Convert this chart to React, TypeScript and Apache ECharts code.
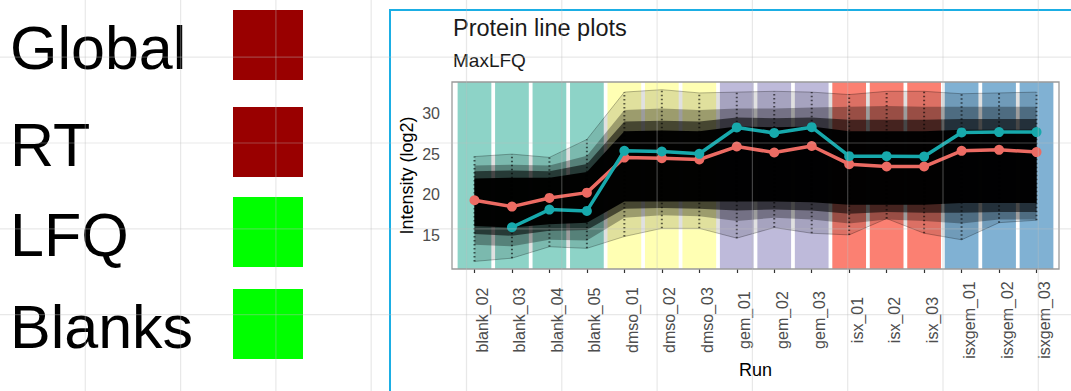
import React, { useEffect, useRef } from 'react';
import * as echarts from 'echarts';

// ---- data ----
const runs = [
  'blank_02', 'blank_03', 'blank_04', 'blank_05',
  'dmso_01', 'dmso_02', 'dmso_03',
  'gem_01', 'gem_02', 'gem_03',
  'isx_01', 'isx_02', 'isx_03',
  'isxgem_01', 'isxgem_02', 'isxgem_03',
];
const runGroup = [0, 0, 0, 0, 1, 1, 1, 2, 2, 2, 3, 3, 3, 4, 4, 4];
const groupColors = ['#8DD3C7', '#FFFFB3', '#BEBADA', '#FB8072', '#80B1D3'];

// highlighted protein traces
const traceRed = [19.35, 18.57, 19.63, 20.28, 24.58, 24.5, 24.34, 25.93, 25.2, 26.0, 23.77, 23.48, 23.48, 25.4, 25.53, 25.25];
const traceTeal = [null, 16.04, 18.2, 18.04, 25.4, 25.32, 25.04, 28.27, 27.6, 28.3, 24.75, 24.75, 24.7, 27.66, 27.7, 27.7];

// envelopes of the cloud of all protein lines (estimated)
const maxVal = [24.7, 25.0, 24.6, 26.8, 32.6, 32.9, 32.5, 32.6, 32.7, 32.6, 32.3, 32.7, 32.7, 32.4, 32.5, 32.6];
const hiMid = [23.6, 23.7, 23.6, 24.8, 30.4, 30.6, 30.4, 30.6, 30.6, 30.7, 30.8, 30.9, 30.8, 30.8, 30.8, 30.8];
const hiDense = [22.9, 23.0, 22.9, 23.8, 29.0, 29.1, 29.0, 29.5, 29.4, 29.5, 29.2, 29.2, 29.2, 29.3, 29.3, 29.3];
const hiCore = [22.0, 22.1, 22.1, 22.8, 27.8, 27.9, 27.8, 28.4, 28.3, 28.4, 27.8, 27.8, 27.8, 28.0, 28.0, 28.0];
const loCore = [16.2, 16.0, 16.4, 16.6, 19.2, 19.2, 19.2, 19.2, 19.2, 19.1, 18.8, 18.8, 18.8, 19.0, 19.0, 19.0];
const loDense = [15.2, 15.0, 15.6, 15.7, 18.3, 18.4, 18.3, 18.1, 18.2, 18.1, 17.7, 17.9, 17.8, 17.8, 17.9, 17.9];
const loMid = [13.9, 13.7, 14.5, 14.4, 17.2, 17.5, 17.4, 16.8, 17.2, 17.0, 16.5, 17.0, 16.8, 16.5, 17.0, 17.0];
const minVal = [11.85, 12.25, 13.65, 13.45, 14.9, 15.9, 15.9, 14.7, 16.0, 15.3, 15.1, 17.1, 15.3, 14.5, 16.6, 16.9];

const yTicks = [15, 20, 25, 30];
const legendLabels = ['Global', 'RT', 'LFQ', 'Blanks'];
const legendColors = ['#990000', '#990000', '#00FF00', '#00FF00'];

const title = 'Protein line plots';
const subtitle = 'MaxLFQ';
const xTitle = 'Run';
const yTitle = 'Intensity (log2)';

// ---- layout / style ----
const FONT = "'Liberation Sans', Arial, Helvetica, sans-serif";
const Y_MIN = 10.92;
const Y_MAX = 33.84;
const X_MIN = -0.6;
const X_MAX = runs.length - 1 + 0.6;
const GRID = { left: 452, top: 82, width: 607, height: 187 };
const BAND_W = 0.9;

export default function App() {
  const ref = useRef<HTMLDivElement>(null);

  useEffect(() => {
    document.body.style.margin = '0';
    const chart = echarts.init(ref.current!, undefined, { renderer: 'svg' });

    const idx = runs.map((_, i) => i);

    const layers = [
      { lo: minVal, hi: maxVal, alpha: 0.12, edge: 0.35 },
      { lo: loMid, hi: hiMid, alpha: 0.3, edge: 0 },
      { lo: loDense, hi: hiDense, alpha: 0.55, edge: 0 },
      { lo: loCore, hi: hiCore, alpha: 0.97, edge: 0 },
    ];

    // each envelope is one polygon built from its two arrays through the axis scales
    const envelopeSeries: any[] = layers.map((L) => ({
      type: 'custom',
      silent: true,
      z: 3,
      data: idx.map((i) => [i, L.lo[i], L.hi[i]]),
      encode: { x: 0, y: [1, 2] },
      renderItem: (params: any, api: any) => {
        if (params.dataIndex !== 0) return null;
        const upper = idx.map((i) => api.coord([i, L.hi[i]]));
        const lower = idx.map((i) => api.coord([i, L.lo[i]])).reverse();
        const children: any[] = [
          {
            type: 'polygon',
            shape: { points: upper.concat(lower) },
            style: { fill: 'rgba(0,0,0,' + L.alpha + ')', stroke: 'none' },
          },
        ];
        if (L.edge > 0) {
          children.push({
            type: 'polyline',
            shape: { points: upper },
            style: { fill: 'none', stroke: 'rgba(0,0,0,' + L.edge + ')', lineWidth: 0.8 },
          });
          children.push({
            type: 'polyline',
            shape: { points: lower },
            style: { fill: 'none', stroke: 'rgba(0,0,0,' + L.edge + ')', lineWidth: 0.8 },
          });
        }
        return { type: 'group', children };
      },
    }));

    // page background grid (decorative)
    const pageGrid: any[] = [];
    for (let k = 0; k < 11; k++) {
      const x = 85.3 + k * 95.3;
      pageGrid.push({
        type: 'line', z: 200, silent: true,
        shape: { x1: x, y1: 0, x2: x, y2: 391 },
        style: { stroke: 'rgba(190,190,190,0.35)', lineWidth: 1.2 },
      });
    }
    for (let k = 0; k < 4; k++) {
      const y = 57.2 + k * 85.8;
      pageGrid.push({
        type: 'line', z: 200, silent: true,
        shape: { x1: 0, y1: y, x2: 1071, y2: y },
        style: { stroke: 'rgba(190,190,190,0.35)', lineWidth: 1.2 },
      });
    }

    const legendCenters = [45, 142, 232, 324];
    const legendGraphics: any[] = [];
    legendLabels.forEach((lab, k) => {
      legendGraphics.push({
        type: 'text', z: 5,
        x: 10, y: legendCenters[k] + 3,
        style: { text: lab, font: `61px ${FONT}`, fill: '#000', align: 'left', verticalAlign: 'middle' },
      });
      legendGraphics.push({
        type: 'rect', z: 5,
        shape: { x: 233, y: legendCenters[k] - 35, width: 70, height: 70 },
        style: { fill: legendColors[k] },
      });
    });

    const option: any = {
      animation: false,
      backgroundColor: '#ffffff',
      grid: { ...GRID, show: false, containLabel: false },
      xAxis: {
        type: 'value',
        min: X_MIN,
        max: X_MAX,
        axisLine: { show: false },
        splitLine: { show: false },
        axisTick: { show: true, customValues: idx, length: 4, lineStyle: { color: '#333', width: 1.2 } },
        axisLabel: {
          customValues: idx,
          formatter: (v: number) => runs[Math.round(v)] ?? '',
          rotate: 90,
          align: 'center',
          verticalAlign: 'top',
          margin: 51,
          color: '#4D4D4D',
          fontSize: 16,
          fontFamily: FONT,
        },
      },
      yAxis: {
        type: 'value',
        min: Y_MIN,
        max: Y_MAX,
        axisLine: { show: false },
        splitLine: { show: false },
        axisTick: { show: true, customValues: yTicks, length: 4, lineStyle: { color: '#333', width: 1.2 } },
        axisLabel: {
          customValues: yTicks,
          color: '#4D4D4D',
          fontSize: 16,
          fontFamily: FONT,
          margin: 12,
        },
      },
      series: [
        {
          type: 'custom',
          silent: true,
          z: 1,
          data: idx.map((i) => [i, Y_MAX, runGroup[i]]),
          encode: { x: 0, y: 1 },
          renderItem: (params: any, api: any) => {
            const i = api.value(0);
            const top = api.coord([i, Y_MAX]);
            const bot = api.coord([i, Y_MIN]);
            const w = api.size([BAND_W, 0])[0];
            return {
              type: 'rect',
              shape: { x: top[0] - w / 2, y: top[1], width: w, height: bot[1] - top[1] },
              style: { fill: groupColors[api.value(2)] },
            };
          },
        },
        ...envelopeSeries,
        {
          type: 'custom',
          silent: true,
          z: 4,
          data: idx.map((i) => [i, minVal[i], maxVal[i]]),
          encode: { x: 0, y: [1, 2] },
          renderItem: (params: any, api: any) => {
            const i = api.value(0);
            const a = api.coord([i, api.value(1)]);
            const b = api.coord([i, api.value(2)]);
            return {
              type: 'line',
              shape: { x1: a[0], y1: a[1], x2: b[0], y2: b[1] },
              style: { stroke: '#000', lineWidth: 2, opacity: 0.6, lineDash: [1.5, 2.5] },
            };
          },
        },
        {
          type: 'line',
          name: 'red',
          data: idx.map((i) => [i, traceRed[i]]),
          symbol: 'circle',
          symbolSize: 10,
          itemStyle: { color: '#EC6B63' },
          lineStyle: { color: '#EC6B63', width: 3.5 },
          z: 10,
        },
        {
          type: 'line',
          name: 'teal',
          data: idx.map((i) => [i, traceTeal[i]]),
          symbol: 'circle',
          symbolSize: 10,
          itemStyle: { color: '#17A9AC' },
          lineStyle: { color: '#17A9AC', width: 3.5 },
          z: 11,
        },
      ],
      graphic: [
        {
          type: 'rect', z: 150, silent: true,
          shape: { x: GRID.left, y: GRID.top, width: GRID.width, height: GRID.height },
          style: { fill: 'none', stroke: '#9A9A9A', lineWidth: 1.3 },
        },
        {
          type: 'rect', z: 150, silent: true,
          shape: { x: 390, y: 10, width: 720, height: 420 },
          style: { fill: 'none', stroke: '#1BAEE4', lineWidth: 2 },
        },
        {
          type: 'text', z: 20, x: 453, y: 28,
          style: { text: title, font: `23.5px ${FONT}`, fill: '#1a1a1a', align: 'left', verticalAlign: 'middle' },
        },
        {
          type: 'text', z: 20, x: 453, y: 60,
          style: { text: subtitle, font: `19px ${FONT}`, fill: '#1a1a1a', align: 'left', verticalAlign: 'middle' },
        },
        {
          type: 'text', z: 20, x: GRID.left + GRID.width / 2, y: 370,
          style: { text: xTitle, font: `18px ${FONT}`, fill: '#000', align: 'center', verticalAlign: 'middle' },
        },
        {
          type: 'text', z: 20, x: 407, y: GRID.top + GRID.height / 2, rotation: Math.PI / 2,
          style: { text: yTitle, font: `18px ${FONT}`, fill: '#000', align: 'center', verticalAlign: 'middle' },
        },
        ...legendGraphics,
        ...pageGrid,
      ],
    };

    chart.setOption(option);
    return () => chart.dispose();
  }, []);

  return (
    <div
      ref={ref}
      style={{ position: 'absolute', left: 0, top: 0, width: 1071, height: 391, background: '#fff' }}
    />
  );
}
